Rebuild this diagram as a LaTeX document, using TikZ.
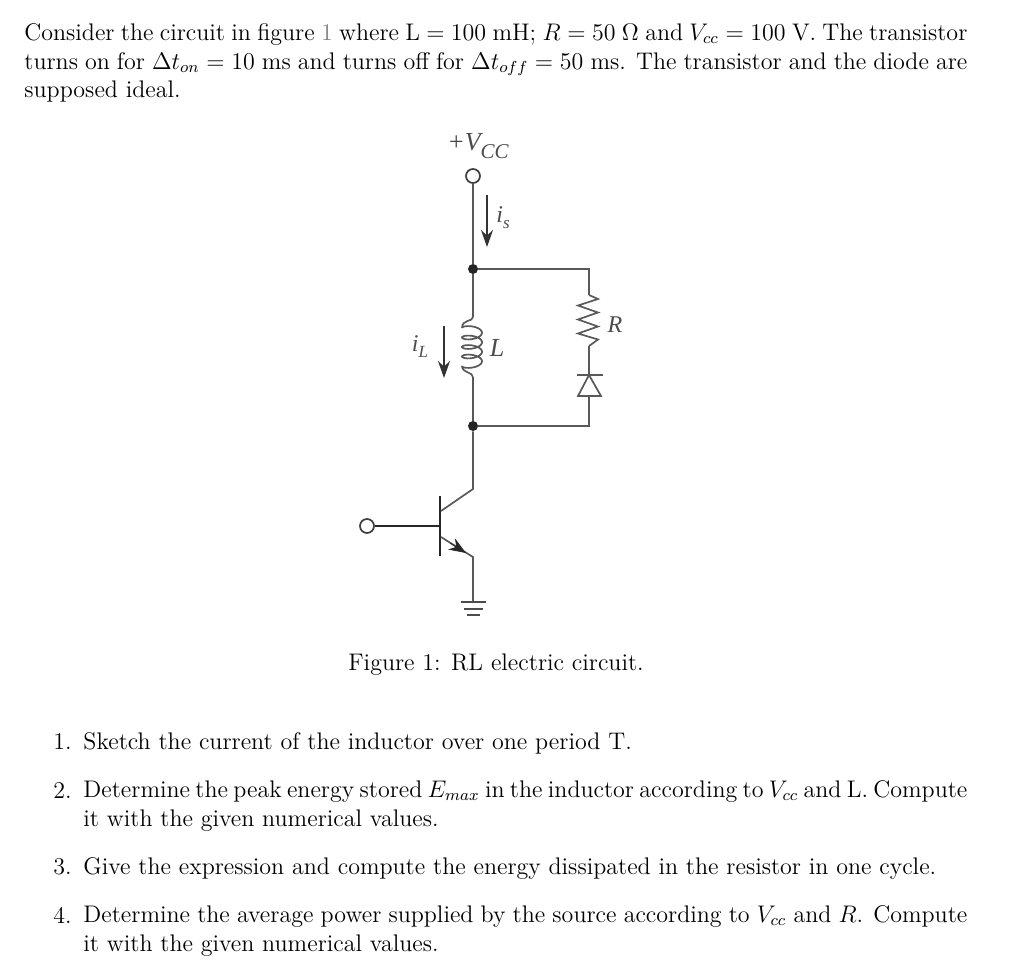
\documentclass[tikz,border=0pt]{standalone}
\usepackage{amsmath}
\usepackage{fontspec}
\usetikzlibrary{positioning,arrows.meta}
\newfontfamily\circfont{Liberation Serif}
\definecolor{wirecol}{gray}{0.35}
\tikzset{
  wire/.style={draw=wirecol, line width=0.85pt, line join=miter},
  earth/.style={draw=black!70, line width=1pt},
  bigarrow/.style={draw=black!80, line width=0.7pt, -{Stealth[length=8.5pt,width=6pt]}},
  term/.style={circle, draw=black!75, fill=white, line width=0.85pt, inner sep=0pt, minimum size=7pt},
  junc/.style={circle, fill=black!85, inner sep=0pt, minimum size=5pt},
  circlabel/.style={text=black!70, inner sep=0pt, font=\fontsize{12}{14}\circfont\itshape},
  para/.style={anchor=north west, inner sep=0pt, align=justify, font=\fontsize{12}{14.4}\selectfont},
  line/.style={anchor=base west, inner sep=0pt, font=\fontsize{12}{14.4}\selectfont}
}
\begin{document}
\begin{tikzpicture}[x=0.5pt, y=-0.5pt]
  \useasboundingbox (0,0) rectangle (1024,975);
  % statement
  \node (intro) [para, text width=471.5pt] at (24,23) {Consider the circuit in figure \textcolor{gray}{1} where L $=$ 100 mH; $R=50$ $\Omega$ and $V_{cc}=100$ V. The transistor turns on for $\Delta t_{on}=10$ ms and turns off for $\Delta t_{off}=50$ ms. The transistor and the diode are supposed ideal.};

  % supply and junctions
  \node (vcc) [term] at (473,176) {};
  \node (jtop) [junc] at (473,269) {};
  \node (jbot) [junc] at (473,426) {};
  \node (vcclab) [circlabel] at (478,146) {\fontsize{13}{14}\selectfont +V\raisebox{-4pt}{\fontsize{10.5}{12}\selectfont CC}};
  \draw[wire] (vcc) -- (jtop);

  % coil
  \coordinate (lin) at (473,317);
  \coordinate (lout) at (473,377);
  \draw[wire] (jtop) -- (lin);
  \draw[wire] (lout) -- (jbot);
  \draw[wire] (lin) .. controls (473,322) and (462,319) .. (462,328)
    plot[domain=180:1620, samples=120, smooth] ({472+10*cos(\x)}, {328+(\x-180)/360*9.5+4*sin(\x)})
    .. controls (462,373) and (473,372) .. (lout);
  \node (llab) [circlabel, font=\fontsize{13}{14}\circfont\itshape] at (497,348) {L};

  % resistor and diode branch
  \coordinate (rin) at (589,295);
  \coordinate (rout) at (589,346);
  \coordinate (dtop) at (589,375);
  \coordinate (dbase) at (589,396);
  \draw[wire] (jtop) -| (rin);
  \draw[wire] (rin) -- ++(9,4) -- ++(-20,6.5) -- ++(20,7) -- ++(-20,7) -- ++(20,7) -- ++(-20,7) -- ++(20,6) -- (rout);
  \draw[wire] (rout) -- (dtop);
  \draw[wire] (577,375) -- (603,375);
  \draw[wire] (dtop) -- (601,396) -- (578,396) -- cycle;
  \draw[wire] (dbase) |- (jbot);
  \node (rlab) [circlabel] at (615,325) {R};

  % current arrows
  \coordinate (istop) at (487,195);
  \coordinate (isbot) at (487,247);
  \draw[bigarrow] (istop) -- (isbot);
  \node (islab) [circlabel] at (503,218) {i\raisebox{-3pt}{\fontsize{8.5}{9}\selectfont s}};
  \coordinate (iltop) at (444,326);
  \coordinate (ilbot) at (444,378);
  \draw[bigarrow] (iltop) -- (ilbot);
  \node (illab) [circlabel] at (420,347) {i\raisebox{-3pt}{\fontsize{8.5}{9}\selectfont L}};

  % transistor
  \node (base) [term] at (367,526) {};
  \coordinate (bar) at (440,526);
  \coordinate (coll) at (473,489);
  \coordinate (emit) at (473,557);
  \coordinate (gnd) at (473,602);
  \draw[draw=black!85, line width=1.2pt] (base) -- (bar);
  \draw[draw=black!85, line width=1.4pt] (440,496) -- (440,556);
  \draw[wire] (jbot) -- (coll) -- (441,511);
  \draw[wire] (441,537) -- (emit) -- (gnd);
  \draw[draw=black!85, line width=0.4pt, -{Stealth[length=8.5pt,width=6.5pt,black!85]}] (450,543) -- (466,553);
  \draw[earth] (461,602) -- (486,602);
  \draw[earth] (464,608.5) -- (483,608.5);
  \draw[earth] (467,615) -- (480,615);

  \node (caption) [line] at (348,670) {Figure 1: RL electric circuit.};

  % questions
  \node (n1) [line] at (53,749) {1.};
  \node (q1) [line, right=5.5pt of n1.base east, anchor=base west] {Sketch the current of the inductor over one period T.};
  \node (n2) [line] at (53,798) {2.};
  \node (q2) [para, text width=442pt] at (83,780) {Determine the peak energy stored $E_{max}$ in the inductor according to $V_{cc}$ and L. Compute it with the given numerical values.};
  \node (n3) [line] at (53,874) {3.};
  \node (q3) [line, right=5.5pt of n3.base east, anchor=base west] {Give the expression and compute the energy dissipated in the resistor in one cycle.};
  \node (n4) [line] at (53,923) {4.};
  \node (q4) [para, text width=442pt] at (83,905) {Determine the average power supplied by the source according to $V_{cc}$ and $R$. Compute it with the given numerical values.};
\end{tikzpicture}
\end{document}
